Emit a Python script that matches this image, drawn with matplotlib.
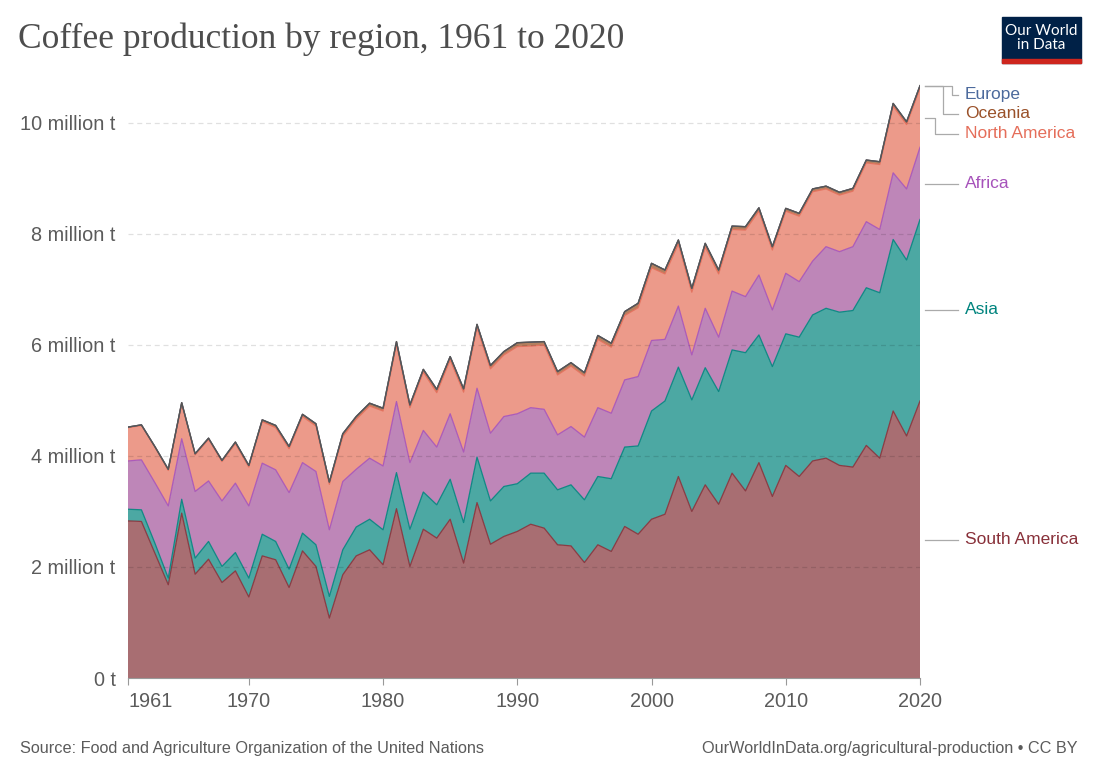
"""Coffee production by region, 1961 to 2020 (stacked area)."""

import matplotlib

matplotlib.use("Agg")
import matplotlib.pyplot as plt
from matplotlib.patches import Rectangle

years = list(range(1961, 2021))

# million tonnes
south_america = [
    2.83, 2.82, 2.25, 1.68, 2.97, 1.87, 2.14, 1.72, 1.93, 1.46,
    2.20, 2.13, 1.63, 2.29, 2.01, 1.08, 1.86, 2.20, 2.31, 2.04,
    3.05, 2.01, 2.68, 2.52, 2.86, 2.07, 3.16, 2.41, 2.55, 2.64,
    2.77, 2.70, 2.40, 2.38, 2.08, 2.40, 2.28, 2.73, 2.59, 2.86,
    2.95, 3.63, 3.00, 3.48, 3.13, 3.69, 3.37, 3.88, 3.27, 3.83,
    3.63, 3.91, 3.96, 3.83, 3.80, 4.19, 3.96, 4.81, 4.36, 4.99,
]
asia_top = [
    3.04, 3.03, 2.43, 1.80, 3.22, 2.16, 2.46, 2.01, 2.26, 1.80,
    2.59, 2.46, 1.96, 2.61, 2.40, 1.47, 2.31, 2.72, 2.86, 2.67,
    3.70, 2.68, 3.35, 3.12, 3.58, 2.80, 3.98, 3.19, 3.45, 3.50,
    3.69, 3.69, 3.39, 3.48, 3.21, 3.63, 3.59, 4.16, 4.18, 4.81,
    4.99, 5.60, 5.01, 5.59, 5.16, 5.91, 5.86, 6.18, 5.61, 6.20,
    6.14, 6.54, 6.66, 6.59, 6.62, 7.03, 6.94, 7.90, 7.53, 8.26,
]
africa_top = [
    3.91, 3.93, 3.52, 3.10, 4.31, 3.36, 3.55, 3.19, 3.51, 3.10,
    3.87, 3.75, 3.34, 3.88, 3.72, 2.67, 3.54, 3.76, 3.96, 3.82,
    4.98, 3.88, 4.46, 4.16, 4.76, 4.07, 5.22, 4.41, 4.71, 4.76,
    4.87, 4.84, 4.38, 4.53, 4.34, 4.87, 4.77, 5.37, 5.43, 6.08,
    6.10, 6.70, 5.82, 6.66, 6.14, 6.97, 6.87, 7.26, 6.63, 7.29,
    7.14, 7.51, 7.77, 7.68, 7.77, 8.22, 8.08, 9.10, 8.81, 9.56,
]
total = [
    4.52, 4.56, 4.17, 3.76, 4.96, 4.04, 4.32, 3.92, 4.25, 3.83,
    4.65, 4.55, 4.17, 4.75, 4.58, 3.53, 4.40, 4.71, 4.95, 4.86,
    6.06, 4.92, 5.56, 5.20, 5.79, 5.21, 6.37, 5.63, 5.88, 6.04,
    6.05, 6.06, 5.52, 5.68, 5.50, 6.17, 6.03, 6.60, 6.75, 7.47,
    7.35, 7.89, 7.02, 7.83, 7.35, 8.14, 8.13, 8.47, 7.77, 8.46,
    8.37, 8.81, 8.86, 8.75, 8.82, 9.33, 9.30, 10.35, 10.02, 10.67,
]
oceania = [
    0.01, 0.01, 0.01, 0.02, 0.02, 0.02, 0.02, 0.02, 0.03, 0.03,
    0.03, 0.04, 0.04, 0.04, 0.04, 0.04, 0.05, 0.05, 0.05, 0.05,
    0.05, 0.05, 0.05, 0.06, 0.06, 0.06, 0.06, 0.06, 0.06, 0.07,
    0.07, 0.06, 0.06, 0.06, 0.06, 0.07, 0.07, 0.07, 0.08, 0.08,
    0.07, 0.07, 0.07, 0.07, 0.07, 0.06, 0.06, 0.06, 0.06, 0.05,
    0.05, 0.05, 0.05, 0.05, 0.05, 0.05, 0.05, 0.05, 0.05, 0.05,
]
europe = [0.0005] * 60

asia = [a - s for a, s in zip(asia_top, south_america)]
africa = [f - a for f, a in zip(africa_top, asia_top)]
north_america = [t - o - e - f for t, o, e, f in zip(total, oceania, europe, africa_top)]

regions = ["South America", "Asia", "Africa", "North America", "Oceania", "Europe"]
series = [south_america, asia, africa, north_america, oceania, europe]
colors = ["#883039", "#00847E", "#A652BA", "#E56E5A", "#9A5129", "#4C6A9C"]
fills = ["#A86E72", "#4CA8A3", "#BE86B8", "#EC9A8A", "#B5805F", "#8196BA"]

x_ticks = [1961, 1970, 1980, 1990, 2000, 2010, 2020]
y_ticks = [0, 2, 4, 6, 8, 10]
y_labels = ["0 t", "2 million t", "4 million t", "6 million t", "8 million t", "10 million t"]

GREY = "#5b5b5b"
plt.rcParams["font.family"] = ["Liberation Sans", "DejaVu Sans"]

fig = plt.figure(figsize=(11, 7.76), dpi=100)
ax = fig.add_axes([128 / 1100, 98 / 776, 792 / 1100, 594 / 776])

ax.stackplot(years, *series, colors=fills, linewidth=0, zorder=2)
cum = [0.0] * len(years)
tops = []
for vals, col in zip(series, colors):
    cum = [c + v for c, v in zip(cum, vals)]
    tops.append(cum)
    ax.plot(years, cum, color=col, lw=0.9, alpha=0.9, zorder=3)
ax.plot(years, tops[-1], color="#555555", lw=1.0, zorder=4)

ax.set_xlim(1961, 2020)
ax.set_ylim(0, 10.7)
ax.set_yticks(y_ticks)
ax.set_yticklabels(y_labels)
ax.set_xticks(x_ticks)
ax.tick_params(axis="y", length=0, pad=9, labelsize=14.3, labelcolor=GREY)
ax.tick_params(axis="x", length=5, color="#999999", pad=5, labelsize=14.3, labelcolor=GREY)
ax.get_xticklabels()[0].set_horizontalalignment("left")
for yv in y_ticks[1:]:
    ax.axhline(yv, color="#000000", alpha=0.12, lw=0.9, ls=(0, (4, 3)), zorder=5)
for side in ["top", "right", "left"]:
    ax.spines[side].set_visible(False)
ax.spines["bottom"].set_color("#999999")
ax.spines["bottom"].set_zorder(6)

# right-hand labels with connector lines
lab_pos = {
    "South America": 540, "Asia": 310, "Africa": 184,
    "North America": 134, "Oceania": 114, "Europe": 95,
}
start = {
    "North America": (tops[2][-1] + tops[3][-1]) / 2,
    "Oceania": tops[4][-1],
    "Europe": tops[5][-1],
}
elbow = {"North America": 935, "Oceania": 943, "Europe": 952}


def to_px(v):
    return 678 - v * 594 / 10.7


for name, col in zip(regions, colors):
    ly = lab_pos[name]
    if name in start:
        sy = to_px(start[name])
        pts_x = [925, elbow[name], elbow[name], 958]
        pts_y = [sy, sy, ly, ly]
    else:
        pts_x = [925, 958]
        pts_y = [ly, ly]
    fig.add_artist(plt.Line2D([p / 1100 for p in pts_x], [1 - p / 776 for p in pts_y],
                              color="#aaaaaa", lw=0.9))
    fig.text(965 / 1100, 1 - ly / 776, name, color=col, fontsize=12.5, va="center")

fig.text(18 / 1100, 1 - 39 / 776, "Coffee production by region, 1961 to 2020",
         family=["Liberation Serif", "DejaVu Serif"], fontsize=25.5, color="#4d4d4d", va="center")
fig.text(20 / 1100, 1 - 748 / 776, "Source: Food and Agriculture Organization of the United Nations",
         fontsize=11.7, color=GREY, va="center")
fig.text(1078 / 1100, 1 - 748 / 776, "OurWorldInData.org/agricultural-production \u2022 CC BY",
         fontsize=11.7, color=GREY, va="center", ha="right")

# logo
fig.add_artist(Rectangle((1002 / 1100, 1 - 63 / 776), 79 / 1100, 46 / 776,
                         transform=fig.transFigure, color="#002147"))
fig.add_artist(Rectangle((1002 / 1100, 1 - 63 / 776), 79 / 1100, 4 / 776,
                         transform=fig.transFigure, color="#CE261E"))
fig.text(1041 / 1100, 1 - 38 / 776, "Our World\nin Data", color="white", fontsize=11,
         ha="center", va="center", linespacing=1.0, family=["Lato", "DejaVu Sans"])

fig.savefig("out.png", dpi=100)
